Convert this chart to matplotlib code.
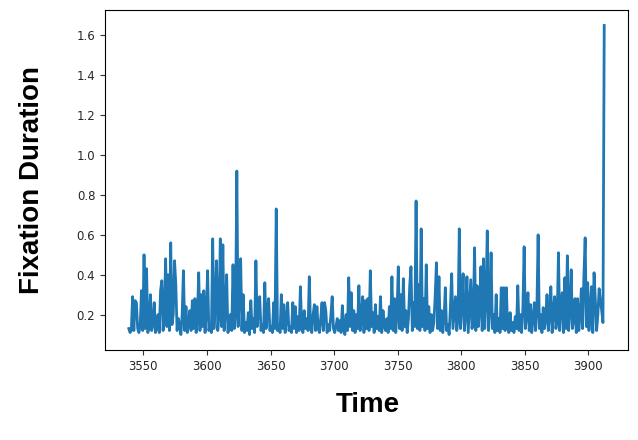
import numpy as np
import matplotlib
matplotlib.use("Agg")
import matplotlib.pyplot as plt

# Fixation durations (seconds), one per time step
durations = [
    0.13, 0.11, 0.12, 0.29, 0.12, 0.27, 0.26, 0.13, 0.11, 0.15,
    0.32, 0.12, 0.50, 0.13, 0.43, 0.11, 0.14, 0.30, 0.12, 0.15,
    0.26, 0.11, 0.13, 0.20, 0.11, 0.32, 0.37, 0.12, 0.22, 0.48,
    0.14, 0.40, 0.12, 0.56, 0.15, 0.20, 0.47, 0.35, 0.12, 0.18,
    0.15, 0.10, 0.20, 0.42, 0.12, 0.24, 0.11, 0.16, 0.22, 0.12,
    0.27, 0.13, 0.28, 0.11, 0.19, 0.41, 0.12, 0.30, 0.14, 0.32,
    0.11, 0.21, 0.42, 0.12, 0.15, 0.11, 0.58, 0.13, 0.25, 0.47,
    0.12, 0.20, 0.58, 0.14, 0.55, 0.12, 0.22, 0.40, 0.11, 0.14,
    0.20, 0.12, 0.45, 0.13, 0.20, 0.92, 0.14, 0.30, 0.48, 0.12,
    0.30, 0.11, 0.16, 0.12, 0.21, 0.10, 0.27, 0.13, 0.18, 0.11,
    0.47, 0.14, 0.22, 0.29, 0.12, 0.15, 0.11, 0.36, 0.13, 0.22,
    0.28, 0.12, 0.14, 0.11, 0.26, 0.13, 0.73, 0.12, 0.15, 0.11,
    0.30, 0.13, 0.25, 0.11, 0.18, 0.26, 0.12, 0.14, 0.11, 0.26,
    0.13, 0.24, 0.11, 0.19, 0.12, 0.34, 0.14, 0.11, 0.22, 0.13,
    0.18, 0.12, 0.39, 0.13, 0.11, 0.20, 0.25, 0.12, 0.24, 0.13,
    0.11, 0.18, 0.26, 0.12, 0.26, 0.22, 0.11, 0.15, 0.12, 0.20,
    0.29, 0.13, 0.11, 0.14, 0.18, 0.12, 0.17, 0.11, 0.245, 0.13,
    0.10, 0.20, 0.12, 0.385, 0.14, 0.31, 0.12, 0.22, 0.11, 0.20,
    0.13, 0.345, 0.12, 0.18, 0.29, 0.11, 0.27, 0.13, 0.28, 0.12,
    0.42, 0.14, 0.21, 0.11, 0.25, 0.13, 0.19, 0.12, 0.29, 0.11,
    0.22, 0.14, 0.12, 0.18, 0.11, 0.24, 0.13, 0.39, 0.12, 0.28,
    0.11, 0.20, 0.44, 0.13, 0.30, 0.12, 0.38, 0.14, 0.22, 0.11,
    0.18, 0.345, 0.44, 0.12, 0.26, 0.14, 0.77, 0.13, 0.35, 0.12,
    0.63, 0.14, 0.28, 0.12, 0.45, 0.13, 0.24, 0.11, 0.20, 0.12,
    0.16, 0.29, 0.46, 0.13, 0.39, 0.12, 0.22, 0.11, 0.18, 0.335,
    0.12, 0.15, 0.10, 0.24, 0.405, 0.13, 0.21, 0.29, 0.12, 0.18,
    0.63, 0.13, 0.25, 0.405, 0.12, 0.20, 0.39, 0.11, 0.24, 0.375,
    0.13, 0.18, 0.535, 0.12, 0.345, 0.14, 0.22, 0.44, 0.12, 0.48,
    0.13, 0.28, 0.62, 0.12, 0.24, 0.51, 0.13, 0.20, 0.11, 0.30,
    0.12, 0.18, 0.11, 0.335, 0.13, 0.335, 0.12, 0.335, 0.14, 0.11,
    0.21, 0.12, 0.16, 0.11, 0.19, 0.13, 0.345, 0.12, 0.20, 0.11,
    0.23, 0.54, 0.13, 0.20, 0.31, 0.12, 0.25, 0.11, 0.18, 0.26,
    0.12, 0.22, 0.60, 0.13, 0.20, 0.11, 0.235, 0.13, 0.18, 0.30,
    0.12, 0.20, 0.34, 0.11, 0.22, 0.29, 0.13, 0.18, 0.51, 0.12,
    0.24, 0.31, 0.11, 0.385, 0.13, 0.495, 0.12, 0.22, 0.425, 0.13,
    0.18, 0.28, 0.11, 0.28, 0.12, 0.20, 0.33, 0.13, 0.39, 0.585,
    0.14, 0.36, 0.12, 0.22, 0.34, 0.11, 0.41, 0.275, 0.12, 0.20,
    0.33, 0.27, 0.22, 0.16, 1.65,
]
start_time = 3538.5
time = start_time + np.arange(len(durations))

fig = plt.figure(figsize=(6.38, 4.40), dpi=100)
ax = fig.add_axes([105/638, 1 - 350/440, 523/638, 340/440])
ax.plot(time, durations, color="#1f77b4", linewidth=2.0)

ax.set_xticks([3550, 3600, 3650, 3700, 3750, 3800, 3850, 3900])
ax.set_yticks([0.2, 0.4, 0.6, 0.8, 1.0, 1.2, 1.4, 1.6])
ax.tick_params(labelsize=8.5, colors="#333333", labelcolor="#262626")

lab_font = dict(family=["Liberation Sans", "DejaVu Sans"], fontsize=20, fontweight="bold")
ax.set_xlabel("Time", va="center", **lab_font)
ax.set_ylabel("Fixation Duration", va="center", **lab_font)
ax.xaxis.set_label_coords((368 - 105) / 523, -(405 - 350) / 340)
ax.yaxis.set_label_coords(-(105 - 32) / 523, 0.5)

fig.savefig("out.png", dpi=100)
